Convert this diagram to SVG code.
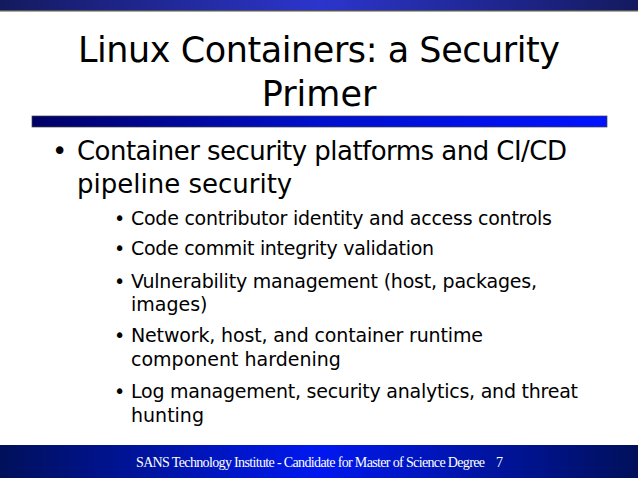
<svg xmlns="http://www.w3.org/2000/svg" width="638" height="478" viewBox="0 0 638 478">
<defs>
<linearGradient id="top" x1="0" x2="1"><stop offset="0" stop-color="#141a5e"/><stop offset="0.5" stop-color="#2c35cc"/><stop offset="1" stop-color="#141a5e"/></linearGradient>
<linearGradient id="rule" x1="0" x2="1"><stop offset="0" stop-color="#000066"/><stop offset="0.5" stop-color="#0010cc"/><stop offset="1" stop-color="#0014ff"/></linearGradient>
<linearGradient id="foot" x1="0" x2="1"><stop offset="0" stop-color="#00105a"/><stop offset="0.5" stop-color="#0018f0"/><stop offset="1" stop-color="#00105a"/></linearGradient>
<style>
.t{font-family:"DejaVu Sans","Liberation Sans",sans-serif;fill:#000}
.h{font-size:35px;text-anchor:middle}
.b1{font-size:26px}
.b2{font-size:19px}
.f{font-family:"Liberation Serif",serif;font-size:14px;fill:#fff}
</style>
</defs>
<rect width="638" height="478" fill="#fff"/>
<rect x="0" y="0" width="638" height="10" fill="url(#top)"/>
<rect x="0" y="10" width="638" height="1.5" fill="#555"/>
<rect x="32" y="116" width="575" height="11" fill="url(#rule)" stroke="#444" stroke-width="0.7"/>
<text class="t h" x="319" y="62" textLength="482">Linux Containers: a Security</text>
<text class="t h" x="319" y="106">Primer</text>
<text class="t b1" x="52" y="160">•</text>
<text class="t b1" x="77" y="160" textLength="490">Container security platforms and CI/CD</text>
<text class="t b1" x="77" y="193">pipeline security</text>
<g class="t b2">
<text x="114" y="225">•</text><text x="131" y="225" textLength="421">Code contributor identity and access controls</text>
<text x="114" y="255">•</text><text x="131" y="255" textLength="303">Code commit integrity validation</text>
<text x="114" y="288">•</text><text x="131" y="288" textLength="406">Vulnerability management (host, packages,</text>
<text x="131" y="311">images)</text>
<text x="114" y="342">•</text><text x="131" y="342" textLength="352">Network, host, and container runtime</text>
<text x="131" y="366">component hardening</text>
<text x="114" y="398">•</text><text x="131" y="398" textLength="447">Log management, security analytics, and threat</text>
<text x="131" y="422">hunting</text>
</g>
<rect x="0" y="445" width="638" height="33" fill="url(#foot)"/>
<text class="f" x="136" y="467" textLength="349">SANS Technology Institute - Candidate for Master of Science Degree</text>
<text class="f" x="496" y="467">7</text>
</svg>
